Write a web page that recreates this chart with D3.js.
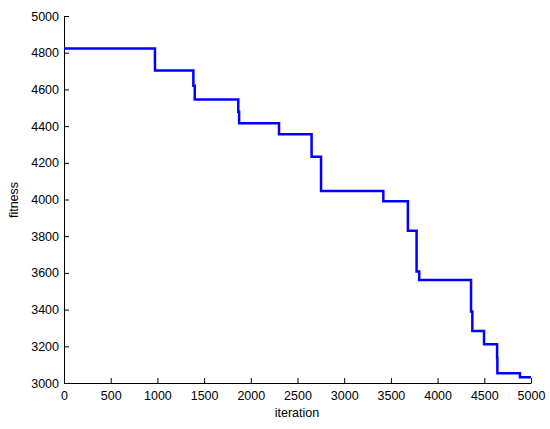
<!DOCTYPE html>
<html>
<head>
<meta charset="utf-8">
<script src="https://cdn.jsdelivr.net/npm/d3@7"></script>
<style>
  body { margin: 0; background: #fff; }
  svg { display: block; }
  text { font-family: "Liberation Sans", Arial, sans-serif; font-size: 12.5px; fill: #000; }
</style>
</head>
<body>
<svg width="550" height="429"></svg>
<script>
// step points: iteration where fitness changes, and the new value
const iterations = [0, 974, 1385, 1400, 1866, 1875, 2302, 2651, 2752, 3419, 3682, 3775, 3803, 4358, 4372, 4497, 4637, 4640, 4882, 5000];
const fitness = [4823, 4703, 4620, 4545, 4478, 4415, 4356, 4233, 4047, 3990, 3830, 3607, 3561, 3389, 3283, 3211, 3136, 3053, 3031, 3031];
const xTicks = [0, 500, 1000, 1500, 2000, 2500, 3000, 3500, 4000, 4500, 5000];
const yTicks = [3000, 3200, 3400, 3600, 3800, 4000, 4200, 4400, 4600, 4800, 5000];

const svg = d3.select("svg");

const x = d3.scaleLinear().domain([0, 5000]).range([64, 531]);
const y = d3.scaleLinear().domain([3000, 5000]).range([383, 16]);

const axisX = d3.axisBottom(x)
  .tickValues(xTicks)
  .tickSizeInner(-5)
  .tickSizeOuter(0)
  .tickPadding(8)
  .tickFormat(d3.format("d"));
const axisY = d3.axisLeft(y)
  .tickValues(yTicks)
  .tickSizeInner(-5)
  .tickSizeOuter(0)
  .tickPadding(4)
  .tickFormat(d3.format("d"));

const gx = svg.append("g").attr("transform", "translate(0,383)").call(axisX);
const gy = svg.append("g").attr("transform", "translate(64,0)").call(axisY);

[gx, gy].forEach(g => {
  g.select(".domain").attr("stroke", "#000");
  g.selectAll(".tick line").attr("stroke", "#000");
  g.selectAll("text").attr("font-size", null).attr("font-family", null);
});
gy.selectAll(".tick text").attr("dx", "-1");

const data = iterations.map((d, i) => ({ it: d, f: fitness[i] }));

const line = d3.line()
  .x(d => x(d.it))
  .y(d => y(d.f))
  .curve(d3.curveStepAfter);

svg.append("path")
  .datum(data)
  .attr("fill", "none")
  .attr("stroke", "#0000ff")
  .attr("stroke-width", 2.5)
  .attr("d", line);

svg.append("text")
  .attr("x", 297)
  .attr("y", 417)
  .attr("text-anchor", "middle")
  .text("iteration");

svg.append("text")
  .attr("transform", "translate(18,200) rotate(-90)")
  .attr("text-anchor", "middle")
  .text("fitness");
</script>
</body>
</html>
